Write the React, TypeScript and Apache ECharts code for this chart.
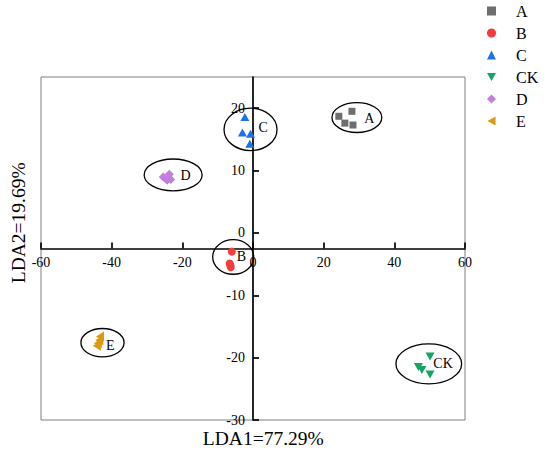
import React, { useEffect, useRef } from "react";
import * as echarts from "echarts";

const FONT = "Liberation Serif";

const groupNames = ["A", "B", "C", "CK", "D", "E"];
const groupColors = ["#6e6e6e", "#f53b3b", "#1f72e6", "#16a463", "#c27ddf", "#dc9a10"];
const groupSymbols = [
  "rect",
  "circle",
  "triangle",
  "path://M0,0L10,0L5,9Z",
  "diamond",
  "path://M9,0L9,10L0,5Z",
];
const groupSymbolSizes = [
  [7, 7],
  [8, 8],
  [9, 8],
  [9, 8],
  [9, 9],
  [8, 10],
];

const pointsA = [[24.3, 18.7], [28.0, 19.5], [26.0, 17.6], [28.3, 17.3]];
const pointsB = [[-6.0, -3.0], [-6.6, -4.9], [-6.3, -5.5], [-6.4, -5.2]];
const pointsC = [[-2.3, 18.6], [-3.0, 16.1], [-0.7, 15.9], [-0.9, 14.3]];
const pointsCK = [[50.1, -19.8], [46.8, -21.5], [47.8, -22.0], [50.1, -22.7]];
const pointsD = [[-25.4, 8.95], [-23.7, 9.4], [-24.3, 8.45], [-23.3, 8.55]];
const pointsE = [[-43.3, -16.6], [-43.5, -17.2], [-43.9, -17.7], [-44.2, -18.1]];
const groupPoints = [pointsA, pointsB, pointsC, pointsCK, pointsD, pointsE];

// ellipse annotation: centre x, centre y, radius x, radius y (data units)
const ellipseCentres = [[29.4, 18.5], [-5.6, -3.85], [-0.7, 16.6], [49.75, -21.0], [-22.6, 9.3], [-42.6, -17.6]];
const ellipseRadii = [[7.05, 2.4], [5.8, 2.78], [7.5, 3.4], [9.3, 3.2], [8.2, 2.55], [6.1, 2.27]];
const ellipseLabelPos = [[32.9, 18.4], [-3.3, -3.85], [2.9, 16.9], [53.8, -21.0], [-19.1, 9.2], [-40.4, -18.0]];

const xTicks = [-60, -40, -20, 0, 20, 40, 60];
const yTicks = [-30, -20, -10, 0, 10, 20];
const xTitle = "LDA1=77.29%";
const yTitle = "LDA2=19.69%";

export default function App() {
  const ref = useRef<HTMLDivElement>(null);
  useEffect(() => {
    if (!ref.current) return;
    const chart = echarts.init(ref.current, null, { renderer: "svg" });
    const axisLineStyle = { color: "#000", width: 1.7 };
    const scatterSeries = groupNames.map((name, i) => ({
      name,
      type: "scatter",
      data: groupPoints[i],
      symbol: groupSymbols[i],
      symbolSize: groupSymbolSizes[i],
      itemStyle: { color: groupColors[i], opacity: 1 },
      z: 4,
    }));
    const ellipseData = ellipseCentres.map((c, i) => [
      c[0],
      c[1],
      ellipseRadii[i][0],
      ellipseRadii[i][1],
      ellipseLabelPos[i][0],
      ellipseLabelPos[i][1],
    ]);
    chart.setOption({
      animation: false,
      textStyle: { fontFamily: FONT },
      grid: {
        left: 41,
        right: 85,
        top: 77,
        bottom: 34,
        show: true,
        borderColor: "#7f7f7f",
        borderWidth: 1,
        containLabel: false,
      },
      legend: {
        orient: "vertical",
        left: 487,
        top: 3,
        padding: 0,
        itemWidth: 9,
        itemHeight: 9,
        itemGap: 6,
        selectedMode: false,
        data: groupNames,
        textStyle: {
          fontFamily: FONT,
          fontSize: 16,
          color: "#000",
          lineHeight: 16,
          padding: [0, 0, 0, 15],
        },
      },
      xAxis: {
        type: "value",
        min: -60,
        max: 60,
        interval: 20,
        position: "bottom",
        offset: -171.5,
        axisLine: { show: true, onZero: false, lineStyle: axisLineStyle },
        axisTick: { show: true, inside: true, length: 6, lineStyle: axisLineStyle },
        axisLabel: { fontFamily: FONT, fontSize: 14, color: "#000", margin: 7 },
        splitLine: { show: false },
      },
      yAxis: {
        type: "value",
        min: -30,
        max: 25,
        position: "left",
        offset: -212,
        axisLine: { show: true, onZero: false, lineStyle: axisLineStyle },
        axisTick: { show: true, inside: true, length: 6, lineStyle: axisLineStyle, customValues: yTicks },
        axisLabel: { fontFamily: FONT, fontSize: 14, color: "#000", margin: 8, customValues: yTicks },
        splitLine: { show: false },
      },
      graphic: [
        {
          type: "text",
          x: 263.3,
          y: 438.4,
          style: { text: xTitle, fill: "#000", fontFamily: FONT, fontSize: 19.5, align: "center", verticalAlign: "middle" },
        },
        {
          type: "text",
          x: 18.3,
          y: 222.8,
          rotation: Math.PI / 2,
          style: { text: yTitle, fill: "#000", fontFamily: FONT, fontSize: 19.5, align: "center", verticalAlign: "middle" },
        },
      ],
      series: [
        {
          type: "custom",
          name: "groups",
          data: ellipseData,
          encode: { x: 0, y: 1 },
          z: 2,
          silent: true,
          renderItem: (params: any, api: any) => {
            const c = api.coord([api.value(0), api.value(1)]);
            const s = api.size([api.value(2), api.value(3)]);
            const l = api.coord([api.value(4), api.value(5)]);
            return {
              type: "group",
              children: [
                {
                  type: "ellipse",
                  shape: { cx: c[0], cy: c[1], rx: s[0], ry: s[1] },
                  style: { fill: "none", stroke: "#000", lineWidth: 1.3 },
                },
                {
                  type: "text",
                  x: l[0],
                  y: l[1],
                  style: {
                    text: groupNames[params.dataIndex],
                    fill: "#000",
                    fontFamily: FONT,
                    fontSize: 14,
                    align: "center",
                    verticalAlign: "middle",
                  },
                },
              ],
            };
          },
        },
        ...scatterSeries,
      ],
    });
    return () => chart.dispose();
  }, []);
  return (
    <div
      ref={ref}
      style={{ position: "fixed", left: 0, top: 0, width: 550, height: 454, background: "#fff" }}
    />
  );
}
